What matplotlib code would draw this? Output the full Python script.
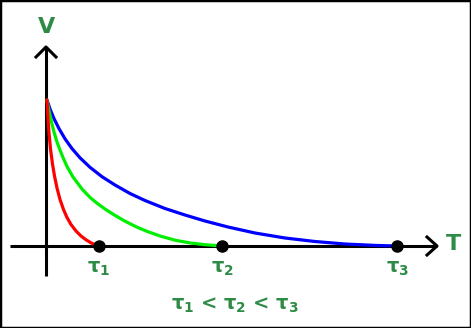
import matplotlib
matplotlib.use('Agg')
import matplotlib.pyplot as plt
from matplotlib.patches import Rectangle

plt.rcParams['mathtext.fontset'] = 'custom'
plt.rcParams['mathtext.rm'] = 'DejaVu Sans:bold'
plt.rcParams['mathtext.it'] = 'DejaVu Sans:bold'
plt.rcParams['mathtext.bf'] = 'DejaVu Sans:bold'

# curves (x = time, y = voltage)
red_t = [1, 2, 3, 4.5, 6.5, 8.5, 11, 14, 17.5, 21, 25, 30, 35, 40, 45, 49, 53]
red_v = [146, 128, 113, 97, 82, 70, 58, 46.5, 36.5, 28.5, 21.5, 15, 10, 6.2, 3.2, 1.2, 0]
green_t = [1, 2, 3.5, 5.5, 8, 11, 14, 17, 21, 27, 36, 44, 51, 59, 68, 79, 90, 101, 115, 130, 145, 160, 176]
green_v = [146, 140, 133, 124, 114, 104, 96, 88.5, 79.5, 69, 57, 48.6, 42.8, 37, 31.2, 24.8,
           19.3, 14.6, 9.7, 5.6, 2.9, 1.2, 0]
blue_t = [1, 4, 8, 13, 19, 26, 34, 44, 56, 69, 84, 99, 119, 139, 159, 182, 209, 239, 269, 299, 329, 351]
blue_v = [146, 137, 127.4, 117.4, 107.2, 97.4, 88.2, 78.7, 69.3, 61, 52.5, 45.5, 37.5, 31, 25,
          19, 13, 8, 4.5, 2, 0.6, 0]
taus = [53, 176, 351]
tau_labels = [r'$\tau_1$', r'$\tau_2$', r'$\tau_3$']

txtcol = '#2e8b46'

fig = plt.figure(figsize=(4.71, 3.28), dpi=100)
ax = fig.add_axes([0, 0, 1, 1])
ax.set_xlim(-46, 425)
ax.set_ylim(-82, 246)
ax.axis('off')

# axes with open arrow heads
ax.plot([-36, 391], [0, 0], color='black', lw=2.2, solid_capstyle='butt')
ax.plot([381, 391, 381], [9, 0, -9], color='black', lw=2.2)
ax.plot([0, 0], [-30, 199], color='black', lw=2.2, solid_capstyle='butt')
ax.plot([-10, 0, 10], [189, 199, 189], color='black', lw=2.2)

ax.plot(blue_t, blue_v, color='#0000ff', lw=2.3, solid_capstyle='round', solid_joinstyle='round')
ax.plot(green_t, green_v, color='#00ee00', lw=2.3, solid_capstyle='round', solid_joinstyle='round')
ax.plot(red_t, red_v, color='#ff0000', lw=2.3, solid_capstyle='round', solid_joinstyle='round')
ax.plot(taus, [0, 0, 0], 'o', color='black', ms=8)

for t, lab in zip(taus, tau_labels):
    ax.text(t, -22, lab, color=txtcol, fontsize=14, fontweight='bold', ha='center', va='center')

ax.text(1, 219, 'V', color=txtcol, fontsize=16, fontweight='bold', ha='center', va='center')
ax.text(407, 2, 'T', color=txtcol, fontsize=16, fontweight='bold', ha='center', va='center')
ax.text(189, -59, r'$\tau_1$ < $\tau_2$ < $\tau_3$', color=txtcol, fontsize=14,
        fontweight='bold', ha='center', va='center')

fig.patches.append(Rectangle((0, 0), 1, 1, transform=fig.transFigure, fill=False,
                             edgecolor='black', lw=2.5))

plt.savefig('out.png', dpi=100, facecolor='white')
